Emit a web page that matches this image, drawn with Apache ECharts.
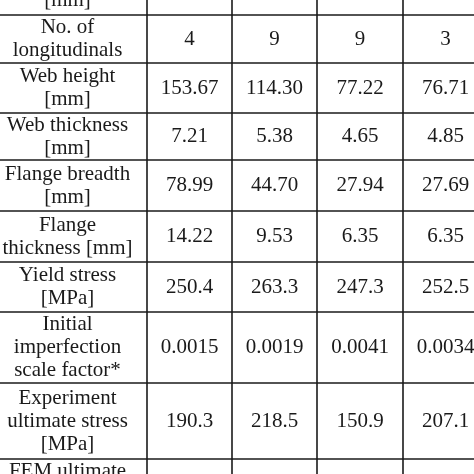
<!DOCTYPE html>
<html><head><meta charset="utf-8">
<script src="https://cdn.jsdelivr.net/npm/echarts@6/dist/echarts.min.js"></script>
<style>html,body{margin:0;padding:0;background:#fff}#c{width:474px;height:474px}</style>
</head><body><div id="c"></div>
<script>
const rowLabels = [
  "[mm]",
  "No. of\nlongitudinals",
  "Web height\n[mm]",
  "Web thickness\n[mm]",
  "Flange breadth\n[mm]",
  "Flange\nthickness [mm]",
  "Yield stress\n[MPa]",
  "Initial\nimperfection\nscale factor*",
  "Experiment\nultimate stress\n[MPa]",
  "FEM ultimate\nstress\n[MPa]"
];
const col1 = ["", "4", "153.67", "7.21", "78.99", "14.22", "250.4", "0.0015", "190.3", ""];
const col2 = ["", "9", "114.30", "5.38", "44.70", "9.53", "263.3", "0.0019", "218.5", ""];
const col3 = ["", "9", "77.22", "4.65", "27.94", "6.35", "247.3", "0.0041", "150.9", ""];
const col4 = ["", "3", "76.71", "4.85", "27.69", "6.35", "252.5", "0.0034", "207.1", ""];

const rowEdges = [-36, 15, 63, 113, 160, 211, 262, 312, 383, 459, 535];
const colEdges = [-2, 147, 232, 317, 403, 488];
const cols = [rowLabels, col1, col2, col3, col4];

const chart = echarts.init(document.getElementById('c'), null, {renderer: 'canvas'});
const els = [];
const stroke = {stroke: '#1a1a1a', lineWidth: 1.6};
rowEdges.forEach(y => els.push({type: 'line', shape: {x1: 0, y1: y, x2: 474, y2: y}, style: stroke}));
colEdges.forEach(x => els.push({type: 'line', shape: {x1: x, y1: 0, x2: x, y2: 474}, style: stroke}));
for (let r = 0; r < rowLabels.length; r++) {
  for (let c = 0; c < cols.length; c++) {
    const t = cols[c][r];
    if (!t) continue;
    let cy = (rowEdges[r] + rowEdges[r + 1]) / 2;
    if (r === 0) cy = 0;
    if (r === rowLabels.length - 1) cy = 494;
    els.push({
      type: 'text',
      x: (colEdges[c] + colEdges[c + 1]) / 2 + (c === 0 ? -5 : 0),
      y: cy,
      style: {
        text: t, fill: '#1a1a1a', font: '21px "Liberation Serif", serif',
        align: 'center', verticalAlign: 'middle', lineHeight: 23
      }
    });
  }
}
chart.setOption({animation: false, graphic: {elements: els}});
</script></body></html>
